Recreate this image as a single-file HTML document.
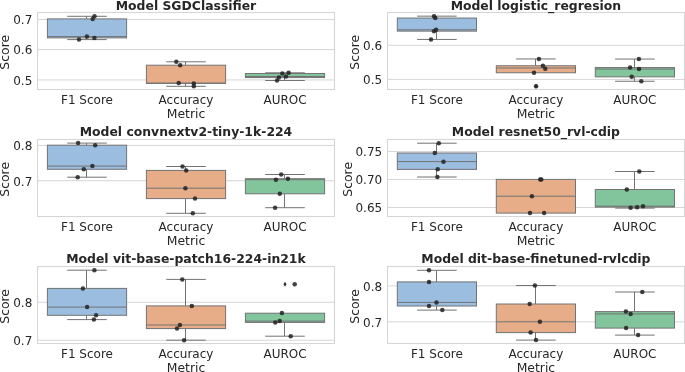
<!DOCTYPE html>
<html><head><meta charset="utf-8"><title>Model comparison box plots</title>
<style>
html,body{margin:0;padding:0;background:#fff;width:685px;height:372px;overflow:hidden}
svg{display:block}
text{font-family:"DejaVu Sans","Liberation Sans",sans-serif;fill:#262626}
.t{font-size:12.0px}
.l{font-size:12.4px}
.ti{font-size:12.4px;font-weight:bold}
</style></head><body>
<svg width="685" height="372" viewBox="0 0 685 372">
<rect x="0" y="0" width="685" height="372" fill="#ffffff"/>
<line x1="37.5" y1="19.5" x2="334.5" y2="19.5" stroke="#d6d6d6" stroke-width="1"/>
<line x1="37.5" y1="49.6" x2="334.5" y2="49.6" stroke="#d6d6d6" stroke-width="1"/>
<line x1="37.5" y1="79.95" x2="334.5" y2="79.95" stroke="#d6d6d6" stroke-width="1"/>
<line x1="86.5" y1="18.9" x2="86.5" y2="16.3" stroke="#737373" stroke-width="1.0"/>
<line x1="86.5" y1="37.9" x2="86.5" y2="39.6" stroke="#737373" stroke-width="1.0"/>
<line x1="67.2" y1="16.3" x2="106.8" y2="16.3" stroke="#737373" stroke-width="1.0"/>
<line x1="67.2" y1="39.6" x2="106.8" y2="39.6" stroke="#737373" stroke-width="1.0"/>
<rect x="47.4" y="18.9" width="79.2" height="19" fill="#9bbde0" stroke="#737373" stroke-width="1.0"/>
<line x1="47.4" y1="36.6" x2="126.6" y2="36.6" stroke="#737373" stroke-width="1.0"/>
<line x1="185.5" y1="65.2" x2="185.5" y2="61.8" stroke="#737373" stroke-width="1.0"/>
<line x1="185.5" y1="83.4" x2="185.5" y2="86.3" stroke="#737373" stroke-width="1.0"/>
<line x1="166.2" y1="61.8" x2="205.8" y2="61.8" stroke="#737373" stroke-width="1.0"/>
<line x1="166.2" y1="86.3" x2="205.8" y2="86.3" stroke="#737373" stroke-width="1.0"/>
<rect x="146.4" y="65.2" width="79.2" height="18.2" fill="#e6ad88" stroke="#737373" stroke-width="1.0"/>
<line x1="146.4" y1="83.1" x2="225.6" y2="83.1" stroke="#737373" stroke-width="1.0"/>
<line x1="284.5" y1="73.5" x2="284.5" y2="72.8" stroke="#737373" stroke-width="1.0"/>
<line x1="284.5" y1="77.6" x2="284.5" y2="80.5" stroke="#737373" stroke-width="1.0"/>
<line x1="265.2" y1="72.8" x2="304.8" y2="72.8" stroke="#737373" stroke-width="1.0"/>
<line x1="265.2" y1="80.5" x2="304.8" y2="80.5" stroke="#737373" stroke-width="1.0"/>
<rect x="245.4" y="73.5" width="79.2" height="4.1" fill="#82c49c" stroke="#737373" stroke-width="1.0"/>
<line x1="245.4" y1="76.5" x2="324.6" y2="76.5" stroke="#737373" stroke-width="1.0"/>
<circle cx="94.5" cy="16.3" r="2.25" fill="#222222" fill-opacity="0.85"/>
<circle cx="92.7" cy="18.9" r="2.25" fill="#222222" fill-opacity="0.85"/>
<circle cx="86.9" cy="36.6" r="2.25" fill="#222222" fill-opacity="0.85"/>
<circle cx="94.4" cy="37.9" r="2.25" fill="#222222" fill-opacity="0.85"/>
<circle cx="79" cy="39.6" r="2.25" fill="#222222" fill-opacity="0.85"/>
<circle cx="176.3" cy="61.8" r="2.25" fill="#222222" fill-opacity="0.85"/>
<circle cx="180.2" cy="65.2" r="2.25" fill="#222222" fill-opacity="0.85"/>
<circle cx="178.7" cy="83.1" r="2.25" fill="#222222" fill-opacity="0.85"/>
<circle cx="193.8" cy="83.4" r="2.25" fill="#222222" fill-opacity="0.85"/>
<circle cx="193.8" cy="86.3" r="2.25" fill="#222222" fill-opacity="0.85"/>
<circle cx="288.6" cy="72.8" r="2.25" fill="#222222" fill-opacity="0.85"/>
<circle cx="282.3" cy="73.5" r="2.25" fill="#222222" fill-opacity="0.85"/>
<circle cx="285.9" cy="76.5" r="2.25" fill="#222222" fill-opacity="0.85"/>
<circle cx="278.9" cy="77.6" r="2.25" fill="#222222" fill-opacity="0.85"/>
<circle cx="277" cy="80.5" r="2.25" fill="#222222" fill-opacity="0.85"/>
<rect x="37.5" y="12.5" width="297" height="77" fill="none" stroke="#d6d6d6" stroke-width="1.1"/>
<text x="32.3" y="24.3" text-anchor="end" class="t">0.7</text>
<text x="32.3" y="54.4" text-anchor="end" class="t">0.6</text>
<text x="32.3" y="84.75" text-anchor="end" class="t">0.5</text>
<text x="87" y="103.9" text-anchor="middle" class="t">F1 Score</text>
<text x="186" y="103.9" text-anchor="middle" class="t">Accuracy</text>
<text x="285" y="103.9" text-anchor="middle" class="t">AUROC</text>
<text x="186" y="118.1" text-anchor="middle" class="l">Metric</text>
<text transform="translate(9.3 52.27) rotate(-90)" text-anchor="middle" class="l">Score</text>
<text x="186" y="9.6" text-anchor="middle" class="ti">Model SGDClassifier</text>
<line x1="387.4" y1="45.25" x2="684.4" y2="45.25" stroke="#d6d6d6" stroke-width="1"/>
<line x1="387.4" y1="79.4" x2="684.4" y2="79.4" stroke="#d6d6d6" stroke-width="1"/>
<line x1="436.5" y1="18.05" x2="436.5" y2="16.15" stroke="#737373" stroke-width="1.0"/>
<line x1="436.5" y1="31.15" x2="436.5" y2="39.45" stroke="#737373" stroke-width="1.0"/>
<line x1="417.1" y1="16.15" x2="456.7" y2="16.15" stroke="#737373" stroke-width="1.0"/>
<line x1="417.1" y1="39.45" x2="456.7" y2="39.45" stroke="#737373" stroke-width="1.0"/>
<rect x="397.3" y="18.05" width="79.2" height="13.1" fill="#9bbde0" stroke="#737373" stroke-width="1.0"/>
<line x1="397.3" y1="29.75" x2="476.5" y2="29.75" stroke="#737373" stroke-width="1.0"/>
<line x1="535.5" y1="65.75" x2="535.5" y2="58.95" stroke="#737373" stroke-width="1.0"/>
<line x1="516.1" y1="58.95" x2="555.7" y2="58.95" stroke="#737373" stroke-width="1.0"/>
<rect x="496.3" y="65.75" width="79.2" height="7" fill="#e6ad88" stroke="#737373" stroke-width="1.0"/>
<line x1="496.3" y1="68" x2="575.5" y2="68" stroke="#737373" stroke-width="1.0"/>
<path d="M535.9 83.75L537.52 86.25L535.9 88.75L534.27 86.25Z" fill="#3a3a3a"/>
<line x1="634.5" y1="67.55" x2="634.5" y2="59.05" stroke="#737373" stroke-width="1.0"/>
<line x1="634.5" y1="76.85" x2="634.5" y2="81.25" stroke="#737373" stroke-width="1.0"/>
<line x1="615.1" y1="59.05" x2="654.7" y2="59.05" stroke="#737373" stroke-width="1.0"/>
<line x1="615.1" y1="81.25" x2="654.7" y2="81.25" stroke="#737373" stroke-width="1.0"/>
<rect x="595.3" y="67.55" width="79.2" height="9.3" fill="#82c49c" stroke="#737373" stroke-width="1.0"/>
<line x1="595.3" y1="69.05" x2="674.5" y2="69.05" stroke="#737373" stroke-width="1.0"/>
<circle cx="434" cy="16.15" r="2.25" fill="#222222" fill-opacity="0.85"/>
<circle cx="435.3" cy="18.05" r="2.25" fill="#222222" fill-opacity="0.85"/>
<circle cx="436.1" cy="29.75" r="2.25" fill="#222222" fill-opacity="0.85"/>
<circle cx="434" cy="31.15" r="2.25" fill="#222222" fill-opacity="0.85"/>
<circle cx="431" cy="39.45" r="2.25" fill="#222222" fill-opacity="0.85"/>
<circle cx="538.9" cy="58.95" r="2.25" fill="#222222" fill-opacity="0.85"/>
<circle cx="542.9" cy="65.75" r="2.25" fill="#222222" fill-opacity="0.85"/>
<circle cx="545.3" cy="68.75" r="2.25" fill="#222222" fill-opacity="0.85"/>
<circle cx="534" cy="72.75" r="2.25" fill="#222222" fill-opacity="0.85"/>
<circle cx="536.1" cy="86.25" r="2.25" fill="#222222" fill-opacity="0.85"/>
<circle cx="638.9" cy="59.05" r="2.25" fill="#222222" fill-opacity="0.85"/>
<circle cx="630.1" cy="67.55" r="2.25" fill="#222222" fill-opacity="0.85"/>
<circle cx="639" cy="69.05" r="2.25" fill="#222222" fill-opacity="0.85"/>
<circle cx="631.7" cy="76.85" r="2.25" fill="#222222" fill-opacity="0.85"/>
<circle cx="641.3" cy="81.25" r="2.25" fill="#222222" fill-opacity="0.85"/>
<rect x="387.5" y="12.5" width="297" height="77" fill="none" stroke="#d6d6d6" stroke-width="1.1"/>
<text x="382.2" y="50.05" text-anchor="end" class="t">0.6</text>
<text x="382.2" y="84.2" text-anchor="end" class="t">0.5</text>
<text x="436.9" y="103.9" text-anchor="middle" class="t">F1 Score</text>
<text x="535.9" y="103.9" text-anchor="middle" class="t">Accuracy</text>
<text x="634.9" y="103.9" text-anchor="middle" class="t">AUROC</text>
<text x="535.9" y="118.1" text-anchor="middle" class="l">Metric</text>
<text transform="translate(358.5 52.27) rotate(-90)" text-anchor="middle" class="l">Score</text>
<text x="535.9" y="9.6" text-anchor="middle" class="ti">Model logistic_regresion</text>
<line x1="37.5" y1="145.4" x2="334.5" y2="145.4" stroke="#d6d6d6" stroke-width="1"/>
<line x1="37.5" y1="180.7" x2="334.5" y2="180.7" stroke="#d6d6d6" stroke-width="1"/>
<line x1="86.5" y1="145.2" x2="86.5" y2="143.1" stroke="#737373" stroke-width="1.0"/>
<line x1="86.5" y1="169.3" x2="86.5" y2="177.2" stroke="#737373" stroke-width="1.0"/>
<line x1="67.2" y1="143.1" x2="106.8" y2="143.1" stroke="#737373" stroke-width="1.0"/>
<line x1="67.2" y1="177.2" x2="106.8" y2="177.2" stroke="#737373" stroke-width="1.0"/>
<rect x="47.4" y="145.2" width="79.2" height="24.1" fill="#9bbde0" stroke="#737373" stroke-width="1.0"/>
<line x1="47.4" y1="166.1" x2="126.6" y2="166.1" stroke="#737373" stroke-width="1.0"/>
<line x1="185.5" y1="170.4" x2="185.5" y2="166.5" stroke="#737373" stroke-width="1.0"/>
<line x1="185.5" y1="198.6" x2="185.5" y2="213.3" stroke="#737373" stroke-width="1.0"/>
<line x1="166.2" y1="166.5" x2="205.8" y2="166.5" stroke="#737373" stroke-width="1.0"/>
<line x1="166.2" y1="213.3" x2="205.8" y2="213.3" stroke="#737373" stroke-width="1.0"/>
<rect x="146.4" y="170.4" width="79.2" height="28.2" fill="#e6ad88" stroke="#737373" stroke-width="1.0"/>
<line x1="146.4" y1="188.2" x2="225.6" y2="188.2" stroke="#737373" stroke-width="1.0"/>
<line x1="284.5" y1="178.7" x2="284.5" y2="174.5" stroke="#737373" stroke-width="1.0"/>
<line x1="284.5" y1="193.8" x2="284.5" y2="207.7" stroke="#737373" stroke-width="1.0"/>
<line x1="265.2" y1="174.5" x2="304.8" y2="174.5" stroke="#737373" stroke-width="1.0"/>
<line x1="265.2" y1="207.7" x2="304.8" y2="207.7" stroke="#737373" stroke-width="1.0"/>
<rect x="245.4" y="178.7" width="79.2" height="15.1" fill="#82c49c" stroke="#737373" stroke-width="1.0"/>
<line x1="245.4" y1="179.7" x2="324.6" y2="179.7" stroke="#737373" stroke-width="1.0"/>
<circle cx="78.1" cy="143.1" r="2.25" fill="#222222" fill-opacity="0.85"/>
<circle cx="95.2" cy="145.2" r="2.25" fill="#222222" fill-opacity="0.85"/>
<circle cx="92.4" cy="166.1" r="2.25" fill="#222222" fill-opacity="0.85"/>
<circle cx="83.8" cy="169.3" r="2.25" fill="#222222" fill-opacity="0.85"/>
<circle cx="77.7" cy="177.2" r="2.25" fill="#222222" fill-opacity="0.85"/>
<circle cx="182.5" cy="166.5" r="2.25" fill="#222222" fill-opacity="0.85"/>
<circle cx="186.2" cy="170.4" r="2.25" fill="#222222" fill-opacity="0.85"/>
<circle cx="185.4" cy="188.2" r="2.25" fill="#222222" fill-opacity="0.85"/>
<circle cx="195" cy="198.6" r="2.25" fill="#222222" fill-opacity="0.85"/>
<circle cx="192.8" cy="213.3" r="2.25" fill="#222222" fill-opacity="0.85"/>
<circle cx="281.2" cy="174.5" r="2.25" fill="#222222" fill-opacity="0.85"/>
<circle cx="287.9" cy="178.7" r="2.25" fill="#222222" fill-opacity="0.85"/>
<circle cx="275.9" cy="179.7" r="2.25" fill="#222222" fill-opacity="0.85"/>
<circle cx="279.8" cy="193.8" r="2.25" fill="#222222" fill-opacity="0.85"/>
<circle cx="275.1" cy="207.7" r="2.25" fill="#222222" fill-opacity="0.85"/>
<rect x="37.5" y="139.5" width="297" height="77" fill="none" stroke="#d6d6d6" stroke-width="1.1"/>
<text x="32.3" y="150.2" text-anchor="end" class="t">0.8</text>
<text x="32.3" y="185.5" text-anchor="end" class="t">0.7</text>
<text x="87" y="230.95" text-anchor="middle" class="t">F1 Score</text>
<text x="186" y="230.95" text-anchor="middle" class="t">Accuracy</text>
<text x="285" y="230.95" text-anchor="middle" class="t">AUROC</text>
<text x="186" y="245.15" text-anchor="middle" class="l">Metric</text>
<text transform="translate(9.3 179.32) rotate(-90)" text-anchor="middle" class="l">Score</text>
<text x="186" y="136.35" text-anchor="middle" class="ti">Model convnextv2-tiny-1k-224</text>
<line x1="387.4" y1="151.5" x2="684.4" y2="151.5" stroke="#d6d6d6" stroke-width="1"/>
<line x1="387.4" y1="179.5" x2="684.4" y2="179.5" stroke="#d6d6d6" stroke-width="1"/>
<line x1="387.4" y1="207.5" x2="684.4" y2="207.5" stroke="#d6d6d6" stroke-width="1"/>
<line x1="436.5" y1="153" x2="436.5" y2="143.2" stroke="#737373" stroke-width="1.0"/>
<line x1="436.5" y1="169.4" x2="436.5" y2="177" stroke="#737373" stroke-width="1.0"/>
<line x1="417.1" y1="143.2" x2="456.7" y2="143.2" stroke="#737373" stroke-width="1.0"/>
<line x1="417.1" y1="177" x2="456.7" y2="177" stroke="#737373" stroke-width="1.0"/>
<rect x="397.3" y="153" width="79.2" height="16.4" fill="#9bbde0" stroke="#737373" stroke-width="1.0"/>
<line x1="397.3" y1="161.6" x2="476.5" y2="161.6" stroke="#737373" stroke-width="1.0"/>
<rect x="496.3" y="179.4" width="79.2" height="33.7" fill="#e6ad88" stroke="#737373" stroke-width="1.0"/>
<line x1="496.3" y1="196.2" x2="575.5" y2="196.2" stroke="#737373" stroke-width="1.0"/>
<line x1="634.5" y1="189.5" x2="634.5" y2="171.5" stroke="#737373" stroke-width="1.0"/>
<line x1="634.5" y1="207.1" x2="634.5" y2="208.1" stroke="#737373" stroke-width="1.0"/>
<line x1="615.1" y1="171.5" x2="654.7" y2="171.5" stroke="#737373" stroke-width="1.0"/>
<line x1="615.1" y1="208.1" x2="654.7" y2="208.1" stroke="#737373" stroke-width="1.0"/>
<rect x="595.3" y="189.5" width="79.2" height="17.6" fill="#82c49c" stroke="#737373" stroke-width="1.0"/>
<line x1="595.3" y1="206.2" x2="674.5" y2="206.2" stroke="#737373" stroke-width="1.0"/>
<circle cx="438.8" cy="143.2" r="2.25" fill="#222222" fill-opacity="0.85"/>
<circle cx="434.8" cy="153" r="2.25" fill="#222222" fill-opacity="0.85"/>
<circle cx="443.5" cy="161.8" r="2.25" fill="#222222" fill-opacity="0.85"/>
<circle cx="437.7" cy="169.3" r="2.25" fill="#222222" fill-opacity="0.85"/>
<circle cx="437.4" cy="177" r="2.25" fill="#222222" fill-opacity="0.85"/>
<circle cx="540.2" cy="179.4" r="2.25" fill="#222222" fill-opacity="0.85"/>
<circle cx="541.3" cy="179.6" r="2.25" fill="#222222" fill-opacity="0.85"/>
<circle cx="531.9" cy="196.2" r="2.25" fill="#222222" fill-opacity="0.85"/>
<circle cx="530" cy="213.1" r="2.25" fill="#222222" fill-opacity="0.85"/>
<circle cx="544.1" cy="213.1" r="2.25" fill="#222222" fill-opacity="0.85"/>
<circle cx="639.3" cy="171.5" r="2.25" fill="#222222" fill-opacity="0.85"/>
<circle cx="626.8" cy="189.5" r="2.25" fill="#222222" fill-opacity="0.85"/>
<circle cx="643" cy="206.2" r="2.25" fill="#222222" fill-opacity="0.85"/>
<circle cx="637.1" cy="207.3" r="2.25" fill="#222222" fill-opacity="0.85"/>
<circle cx="630.6" cy="207.7" r="2.25" fill="#222222" fill-opacity="0.85"/>
<rect x="387.5" y="139.5" width="297" height="77" fill="none" stroke="#d6d6d6" stroke-width="1.1"/>
<text x="382.2" y="156.3" text-anchor="end" class="t">0.75</text>
<text x="382.2" y="184.3" text-anchor="end" class="t">0.70</text>
<text x="382.2" y="212.3" text-anchor="end" class="t">0.65</text>
<text x="436.9" y="230.95" text-anchor="middle" class="t">F1 Score</text>
<text x="535.9" y="230.95" text-anchor="middle" class="t">Accuracy</text>
<text x="634.9" y="230.95" text-anchor="middle" class="t">AUROC</text>
<text x="535.9" y="245.15" text-anchor="middle" class="l">Metric</text>
<text transform="translate(351.5 179.32) rotate(-90)" text-anchor="middle" class="l">Score</text>
<text x="535.9" y="136.35" text-anchor="middle" class="ti">Model resnet50_rvl-cdip</text>
<line x1="37.5" y1="302.3" x2="334.5" y2="302.3" stroke="#d6d6d6" stroke-width="1"/>
<line x1="37.5" y1="340.25" x2="334.5" y2="340.25" stroke="#d6d6d6" stroke-width="1"/>
<line x1="86.5" y1="288.4" x2="86.5" y2="270.2" stroke="#737373" stroke-width="1.0"/>
<line x1="86.5" y1="315.3" x2="86.5" y2="319.6" stroke="#737373" stroke-width="1.0"/>
<line x1="67.2" y1="270.2" x2="106.8" y2="270.2" stroke="#737373" stroke-width="1.0"/>
<line x1="67.2" y1="319.6" x2="106.8" y2="319.6" stroke="#737373" stroke-width="1.0"/>
<rect x="47.4" y="288.4" width="79.2" height="26.9" fill="#9bbde0" stroke="#737373" stroke-width="1.0"/>
<line x1="47.4" y1="307.1" x2="126.6" y2="307.1" stroke="#737373" stroke-width="1.0"/>
<line x1="185.5" y1="305.9" x2="185.5" y2="279.4" stroke="#737373" stroke-width="1.0"/>
<line x1="185.5" y1="328.6" x2="185.5" y2="340.2" stroke="#737373" stroke-width="1.0"/>
<line x1="166.2" y1="279.4" x2="205.8" y2="279.4" stroke="#737373" stroke-width="1.0"/>
<line x1="166.2" y1="340.2" x2="205.8" y2="340.2" stroke="#737373" stroke-width="1.0"/>
<rect x="146.4" y="305.9" width="79.2" height="22.7" fill="#e6ad88" stroke="#737373" stroke-width="1.0"/>
<line x1="146.4" y1="325" x2="225.6" y2="325" stroke="#737373" stroke-width="1.0"/>
<line x1="284.5" y1="322.4" x2="284.5" y2="336.2" stroke="#737373" stroke-width="1.0"/>
<line x1="265.2" y1="336.2" x2="304.8" y2="336.2" stroke="#737373" stroke-width="1.0"/>
<rect x="245.4" y="313.2" width="79.2" height="9.2" fill="#82c49c" stroke="#737373" stroke-width="1.0"/>
<line x1="245.4" y1="321.1" x2="324.6" y2="321.1" stroke="#737373" stroke-width="1.0"/>
<path d="M285 281.8L286.62 284.3L285 286.8L283.38 284.3Z" fill="#3a3a3a"/>
<circle cx="94.4" cy="270.2" r="2.25" fill="#222222" fill-opacity="0.85"/>
<circle cx="82.9" cy="288.4" r="2.25" fill="#222222" fill-opacity="0.85"/>
<circle cx="87.1" cy="307.1" r="2.25" fill="#222222" fill-opacity="0.85"/>
<circle cx="96.1" cy="315.3" r="2.25" fill="#222222" fill-opacity="0.85"/>
<circle cx="93.9" cy="319.6" r="2.25" fill="#222222" fill-opacity="0.85"/>
<circle cx="182.3" cy="279.4" r="2.25" fill="#222222" fill-opacity="0.85"/>
<circle cx="191.8" cy="305.9" r="2.25" fill="#222222" fill-opacity="0.85"/>
<circle cx="179.9" cy="324.9" r="2.25" fill="#222222" fill-opacity="0.85"/>
<circle cx="177" cy="328.6" r="2.25" fill="#222222" fill-opacity="0.85"/>
<circle cx="184.1" cy="340.2" r="2.25" fill="#222222" fill-opacity="0.85"/>
<circle cx="294.7" cy="284.3" r="2.25" fill="#222222" fill-opacity="0.85"/>
<circle cx="281.9" cy="313.1" r="2.25" fill="#222222" fill-opacity="0.85"/>
<circle cx="279.7" cy="321.1" r="2.25" fill="#222222" fill-opacity="0.85"/>
<circle cx="275.3" cy="322.4" r="2.25" fill="#222222" fill-opacity="0.85"/>
<circle cx="290.7" cy="336.2" r="2.25" fill="#222222" fill-opacity="0.85"/>
<rect x="37.5" y="266.5" width="297" height="77" fill="none" stroke="#d6d6d6" stroke-width="1.1"/>
<text x="32.3" y="307.1" text-anchor="end" class="t">0.8</text>
<text x="32.3" y="345.05" text-anchor="end" class="t">0.7</text>
<text x="87" y="358" text-anchor="middle" class="t">F1 Score</text>
<text x="186" y="358" text-anchor="middle" class="t">Accuracy</text>
<text x="285" y="358" text-anchor="middle" class="t">AUROC</text>
<text x="186" y="372.2" text-anchor="middle" class="l">Metric</text>
<text transform="translate(9.3 306.35) rotate(-90)" text-anchor="middle" class="l">Score</text>
<text x="186" y="263.4" text-anchor="middle" class="ti">Model vit-base-patch16-224-in21k</text>
<line x1="387.4" y1="285.87" x2="684.4" y2="285.87" stroke="#d6d6d6" stroke-width="1"/>
<line x1="387.4" y1="321.8" x2="684.4" y2="321.8" stroke="#d6d6d6" stroke-width="1"/>
<line x1="436.5" y1="281.9" x2="436.5" y2="270.3" stroke="#737373" stroke-width="1.0"/>
<line x1="436.5" y1="306" x2="436.5" y2="310.1" stroke="#737373" stroke-width="1.0"/>
<line x1="417.1" y1="270.3" x2="456.7" y2="270.3" stroke="#737373" stroke-width="1.0"/>
<line x1="417.1" y1="310.1" x2="456.7" y2="310.1" stroke="#737373" stroke-width="1.0"/>
<rect x="397.3" y="281.9" width="79.2" height="24.1" fill="#9bbde0" stroke="#737373" stroke-width="1.0"/>
<line x1="397.3" y1="302.4" x2="476.5" y2="302.4" stroke="#737373" stroke-width="1.0"/>
<line x1="535.5" y1="304" x2="535.5" y2="285.5" stroke="#737373" stroke-width="1.0"/>
<line x1="535.5" y1="332.6" x2="535.5" y2="340.1" stroke="#737373" stroke-width="1.0"/>
<line x1="516.1" y1="285.5" x2="555.7" y2="285.5" stroke="#737373" stroke-width="1.0"/>
<line x1="516.1" y1="340.1" x2="555.7" y2="340.1" stroke="#737373" stroke-width="1.0"/>
<rect x="496.3" y="304" width="79.2" height="28.6" fill="#e6ad88" stroke="#737373" stroke-width="1.0"/>
<line x1="496.3" y1="321.8" x2="575.5" y2="321.8" stroke="#737373" stroke-width="1.0"/>
<line x1="634.5" y1="311.6" x2="634.5" y2="292" stroke="#737373" stroke-width="1.0"/>
<line x1="634.5" y1="328.1" x2="634.5" y2="335.1" stroke="#737373" stroke-width="1.0"/>
<line x1="615.1" y1="292" x2="654.7" y2="292" stroke="#737373" stroke-width="1.0"/>
<line x1="615.1" y1="335.1" x2="654.7" y2="335.1" stroke="#737373" stroke-width="1.0"/>
<rect x="595.3" y="311.6" width="79.2" height="16.5" fill="#82c49c" stroke="#737373" stroke-width="1.0"/>
<line x1="595.3" y1="313.9" x2="674.5" y2="313.9" stroke="#737373" stroke-width="1.0"/>
<circle cx="429" cy="270.3" r="2.25" fill="#222222" fill-opacity="0.85"/>
<circle cx="429" cy="281.9" r="2.25" fill="#222222" fill-opacity="0.85"/>
<circle cx="436.5" cy="302.4" r="2.25" fill="#222222" fill-opacity="0.85"/>
<circle cx="429" cy="306" r="2.25" fill="#222222" fill-opacity="0.85"/>
<circle cx="442.3" cy="310.1" r="2.25" fill="#222222" fill-opacity="0.85"/>
<circle cx="534.9" cy="285.5" r="2.25" fill="#222222" fill-opacity="0.85"/>
<circle cx="529.7" cy="304" r="2.25" fill="#222222" fill-opacity="0.85"/>
<circle cx="539.9" cy="321.8" r="2.25" fill="#222222" fill-opacity="0.85"/>
<circle cx="530.6" cy="332.6" r="2.25" fill="#222222" fill-opacity="0.85"/>
<circle cx="536" cy="340.1" r="2.25" fill="#222222" fill-opacity="0.85"/>
<circle cx="642.3" cy="292" r="2.25" fill="#222222" fill-opacity="0.85"/>
<circle cx="625.9" cy="311.6" r="2.25" fill="#222222" fill-opacity="0.85"/>
<circle cx="630.6" cy="313.9" r="2.25" fill="#222222" fill-opacity="0.85"/>
<circle cx="626.1" cy="328.1" r="2.25" fill="#222222" fill-opacity="0.85"/>
<circle cx="638.1" cy="335.1" r="2.25" fill="#222222" fill-opacity="0.85"/>
<rect x="387.5" y="266.5" width="297" height="77" fill="none" stroke="#d6d6d6" stroke-width="1.1"/>
<text x="382.2" y="290.67" text-anchor="end" class="t">0.8</text>
<text x="382.2" y="326.6" text-anchor="end" class="t">0.7</text>
<text x="436.9" y="358" text-anchor="middle" class="t">F1 Score</text>
<text x="535.9" y="358" text-anchor="middle" class="t">Accuracy</text>
<text x="634.9" y="358" text-anchor="middle" class="t">AUROC</text>
<text x="535.9" y="372.2" text-anchor="middle" class="l">Metric</text>
<text transform="translate(358.5 306.35) rotate(-90)" text-anchor="middle" class="l">Score</text>
<text x="535.9" y="263.4" text-anchor="middle" class="ti">Model dit-base-finetuned-rvlcdip</text>
</svg>
</body></html>
